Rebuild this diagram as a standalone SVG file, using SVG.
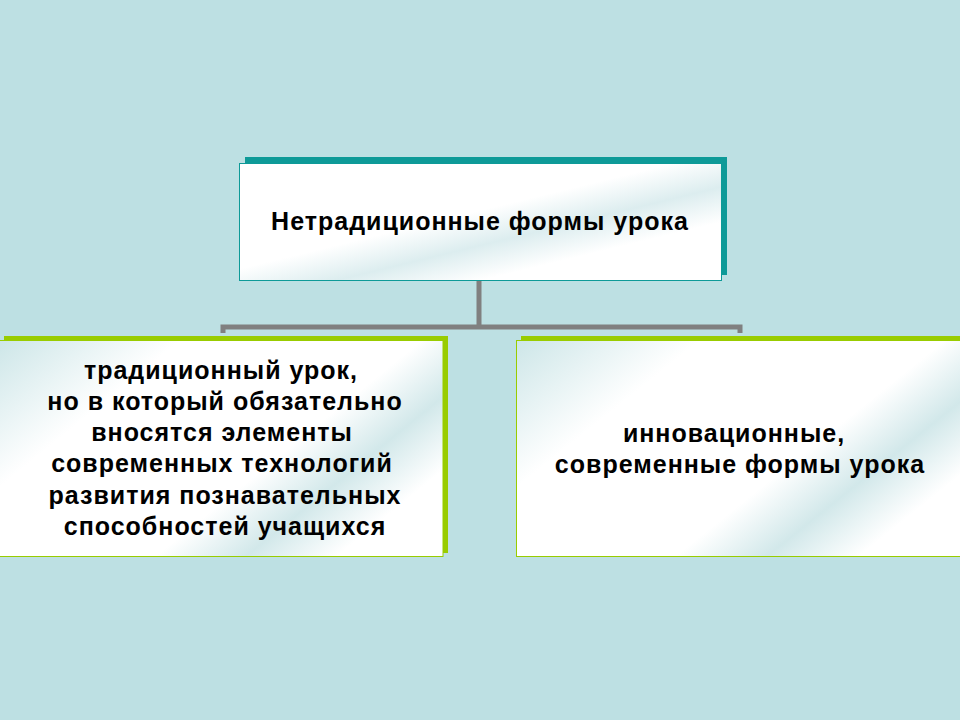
<svg xmlns="http://www.w3.org/2000/svg" width="960" height="720" viewBox="0 0 960 720">
<defs>
<linearGradient id="g" x1="0" y1="0" x2="1" y2="1">
<stop offset="0" stop-color="#ffffff"/>
<stop offset="0.45" stop-color="#ffffff"/>
<stop offset="0.6" stop-color="#dcedef"/>
<stop offset="0.75" stop-color="#ffffff"/>
<stop offset="1" stop-color="#ffffff"/>
</linearGradient>
<linearGradient id="g2" x1="0" y1="0" x2="1" y2="0.6">
<stop offset="0" stop-color="#cde6e8"/>
<stop offset="0.3" stop-color="#ffffff"/>
<stop offset="0.7" stop-color="#ffffff"/>
<stop offset="0.85" stop-color="#d2e8ea"/>
<stop offset="1" stop-color="#ffffff"/>
</linearGradient>
</defs>
<style>
.t{font-family:"Liberation Sans",Arial,sans-serif;font-weight:bold;font-size:25px;letter-spacing:1px;fill:#000;text-anchor:middle}
.c{stroke:#808080;stroke-width:5;fill:none}
</style>
<rect width="960" height="720" fill="#bde0e3"/>
<g id="connectors">
<path class="c" d="M479 280V327M223 333V327H740V333"/>
</g>
<g id="top">
<rect x="245" y="157" width="482" height="118" fill="#0e9a98"/>
<rect x="239.5" y="163.5" width="482" height="117" fill="url(#g)" stroke="#0e9a98"/>
<text class="t" x="480" y="230">Нетрадиционные формы урока</text>
</g>
<g id="left">
<rect x="4" y="336" width="444" height="217" fill="#99cc00"/>
<rect x="-1" y="340.5" width="444" height="216" fill="url(#g2)" stroke="#99cc00"/>
<text class="t"><tspan x="221" y="379">традиционный урок,</tspan><tspan x="225" y="410">но в который обязательно</tspan><tspan x="222" y="441">вносятся элементы</tspan><tspan x="222" y="472">современных технологий</tspan><tspan x="225" y="504">развития познавательных</tspan><tspan x="225" y="535">способностей учащихся</tspan></text>
</g>
<g id="right">
<rect x="521" y="336" width="444" height="217" fill="#99cc00"/>
<rect x="516.5" y="340.5" width="450" height="216" fill="url(#g2)" stroke="#99cc00"/>
<text class="t"><tspan x="734" y="442">инновационные,</tspan><tspan x="740" y="473">современные формы урока</tspan></text>
</g>
</svg>
